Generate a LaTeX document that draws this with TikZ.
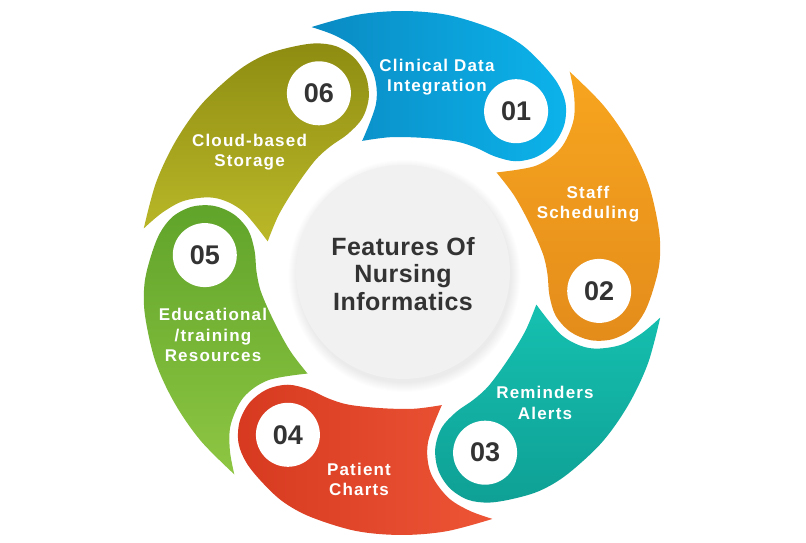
\documentclass[tikz,border=0pt]{standalone}
\usepackage{fontspec}
\setmainfont{Liberation Sans}
\newfontfamily\labfont[LetterSpace=7]{Liberation Sans}
\newfontfamily\hubfont[LetterSpace=2]{Liberation Sans}
\newfontfamily\numfont{Liberation Sans}
\definecolor{blA}{HTML}{0A89C2}
\definecolor{blB}{HTML}{0CB4EC}
\definecolor{orA}{HTML}{F8A61F}
\definecolor{orB}{HTML}{E48C1B}
\definecolor{teA}{HTML}{16C4B3}
\definecolor{teB}{HTML}{0E9C92}
\definecolor{rdA}{HTML}{D6391F}
\definecolor{rdB}{HTML}{EE5637}
\definecolor{grA}{HTML}{5FA32A}
\definecolor{grB}{HTML}{8FC743}
\definecolor{olA}{HTML}{8A880F}
\definecolor{olB}{HTML}{C0BE2B}
\definecolor{numgray}{HTML}{333333}
\definecolor{hubgray}{HTML}{F1F1F1}
\newcommand\segshape{plot[smooth,tension=0.55] coordinates {(148.8,215.7) (185.3,185.3) (214.6,150.3) (237.5,110.7) (252,66) (255.5,35) (252,8) (245,-17.1) (233.4,-35.4) (215.1,-47) (193.6,-49.8) (173,-43.3) (157,-28.7) (148.8,-8.7) (145,12) (138.5,32) (123,60) (104.5,87.5) (85,108.7)} -- plot[smooth,tension=0.55] coordinates {(85,108.7) (123.5,118.9) (146.5,138.2) (156.8,166.4) (155.4,192) (148.8,215.7)} -- cycle}
\begin{document}
\begin{tikzpicture}[x=1pt,y=1pt,
  numcirc/.style={circle,fill=white,minimum size=64pt,inner sep=0pt,font=\numfont\bfseries\fontsize{27}{27}\selectfont,text=numgray},
  seglabel/.style={align=center,text=white,font=\labfont\bfseries\fontsize{17}{20.5}\selectfont,inner sep=0pt},
  hubtext/.style={align=center,text=numgray,font=\hubfont\bfseries\fontsize{25}{27.5}\selectfont,inner sep=0pt}]
\useasboundingbox (0,0) rectangle (806,543);
\fill[white] (0,0) rectangle (806,543);
% hub shadow and hub
\foreach \i in {0,...,9} \fill[black,opacity=0.009] (404.5,267) circle ({107+\i});
\node[circle,fill=hubgray,minimum size=214pt,inner sep=0pt] (hub) at (403,271) {};
\node[hubtext] (hubt) at (403,269) {Features Of\\Nursing\\Informatics};
% segment 01
\begin{scope}
\clip[shift={(402,270)},rotate=54.8] \segshape;
\shade[left color=blA,right color=blB] (305,370) rectangle (575,540);
\end{scope}
% segment 02
\begin{scope}
\clip[shift={(402,270)},rotate=-5.2] \segshape;
\shade[top color=orA,bottom color=orB] (490,200) rectangle (670,480);
\end{scope}
% segment 03
\begin{scope}
\clip[shift={(402,270)},rotate=-65.2] \segshape;
\shade[top color=teA,bottom color=teB] (430,15) rectangle (670,260);
\end{scope}
% segment 04
\begin{scope}
\clip[shift={(402,270)},rotate=-125.2] \segshape;
\shade[left color=rdA,right color=rdB] (235,5) rectangle (500,170);
\end{scope}
% segment 05
\begin{scope}
\clip[shift={(402,270)},rotate=174.8] \segshape;
\shade[top color=grA,bottom color=grB] (135,60) rectangle (320,345);
\end{scope}
% segment 06
\begin{scope}
\clip[shift={(402,270)},rotate=114.8] \segshape;
\shade[top color=olA,bottom color=olB] (135,280) rectangle (380,520);
\end{scope}
% number circles
\node[numcirc] (n1) at (516.1,431.8) {01};
\node[numcirc] (n2) at (599.2,252.1) {02};
\node[numcirc] (n3) at (485.1,90.3) {03};
\node[numcirc] (n4) at (287.9,108.2) {04};
\node[numcirc] (n5) at (204.8,287.9) {05};
\node[numcirc] (n6) at (318.9,449.7) {06};
% labels
\node[seglabel] (l1) at (437,466) {Clinical Data\\Integration};
\node[seglabel] (l2) at (588,339) {Staff\\Scheduling};
\node[seglabel] (l3) at (545,140) {Reminders\\Alerts};
\node[seglabel] (l4) at (359,63.5) {Patient\\Charts};
\node[seglabel] (l5) at (213,208) {Educational\\/training\\Resources};
\node[seglabel] (l6) at (249.5,391) {Cloud-based\\Storage};
\end{tikzpicture}
\end{document}
